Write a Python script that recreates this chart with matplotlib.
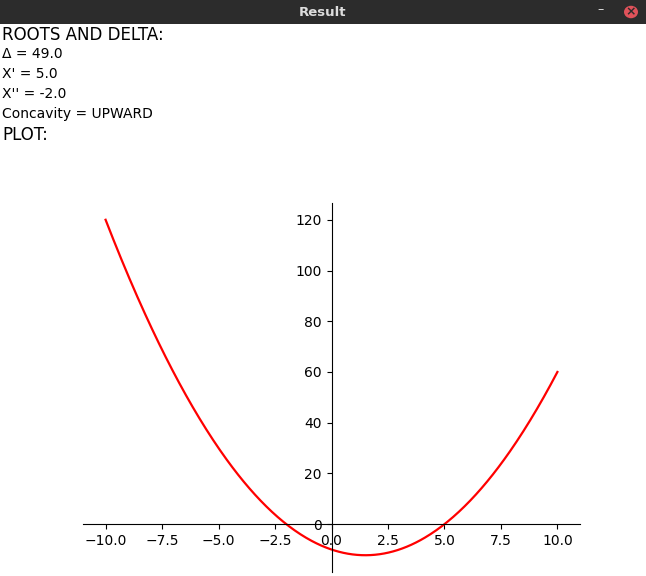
import numpy as np
import matplotlib
matplotlib.use("Agg")
import matplotlib.pyplot as plt
from matplotlib.patches import Rectangle, Circle

# Quadratic coefficients (y = a x^2 + b x + c)
a, b, c = 1.0, -3.0, -10.0
x_range = (-10, 10)
info_lines = ["Δ = 49.0", "X' = 5.0", "X'' = -2.0", "Concavity = UPWARD"]

fig = plt.figure(figsize=(6.46, 5.76), dpi=100)
W, H = 646, 576

# window title bar
fig.patches.append(Rectangle((0, 1 - 24 / H), 1, 24 / H, transform=fig.transFigure,
                             facecolor="#2c2c2c", edgecolor="none", zorder=0))
fig.text(0.5, 1 - 12 / H, "Result", ha="center", va="center", color="#dddddd",
         fontsize=9.5, fontweight="bold")
fig.text(601 / W, 1 - 10 / H, "–", ha="center", va="center", color="#dddddd", fontsize=9)
fig.patches.append(Circle((631 / W, 1 - 12 / H), 7 / W, transform=fig.transFigure,
                          facecolor="#e0525a", edgecolor="none"))
fig.text(631 / W, 1 - 12 / H, "×", ha="center", va="center", color="#2c2c2c",
         fontsize=9, fontweight="bold")

fig.text(2 / W, 1 - 35 / H, "ROOTS AND DELTA:", va="center", fontsize=12)
for i, t in enumerate(info_lines):
    fig.text(2 / W, 1 - (54 + 20 * i) / H, t, va="center", fontsize=10)
fig.text(2 / W, 1 - 135 / H, "PLOT:", va="center", fontsize=12)

ax = fig.add_axes([83 / W, 4 / H, (580 - 83) / W, (572 - 203) / H])
x = np.linspace(x_range[0], x_range[1], 400)
ax.plot(x, a * x**2 + b * x + c, color="red", lw=1.6)
ax.spines["left"].set_position(("data", 0))
ax.spines["bottom"].set_position(("data", 0))
ax.spines["right"].set_visible(False)
ax.spines["top"].set_visible(False)

fig.savefig("out.png", dpi=100)
